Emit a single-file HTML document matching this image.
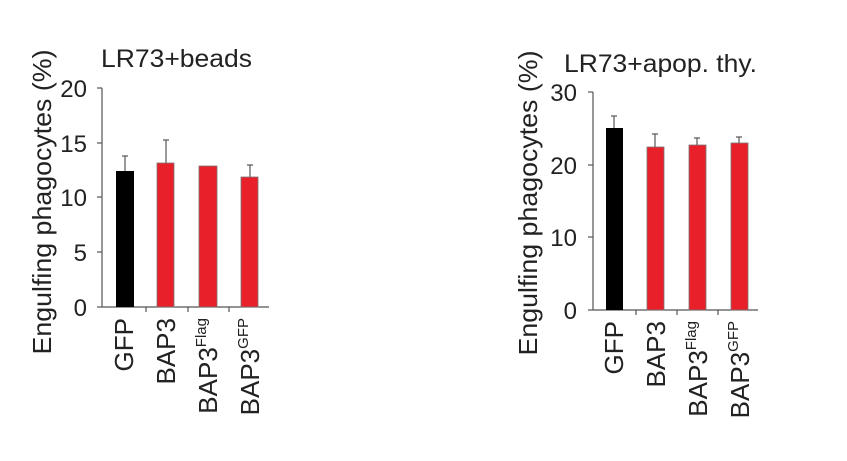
<!DOCTYPE html><html><head><style>body{margin:0;background:#fff}svg{font-family:"Liberation Sans",sans-serif}</style></head><body>
<svg width="847" height="456" viewBox="0 0 847 456" xmlns="http://www.w3.org/2000/svg">
<g fill="#222">
<!-- Left chart -->
<text x="101" y="67" font-size="25" textLength="151" lengthAdjust="spacingAndGlyphs">LR73+beads</text>
<text transform="translate(51,202) rotate(-90)" font-size="26" text-anchor="middle" textLength="305" lengthAdjust="spacingAndGlyphs">Engulfing phagocytes (%)</text>
<g stroke="#555" stroke-width="1.2" fill="none">
<line x1="102" y1="88" x2="102" y2="307"/><line x1="102" y1="307" x2="269" y2="307"/>
<line x1="97" y1="88" x2="102" y2="88"/><line x1="97" y1="143" x2="102" y2="143"/><line x1="97" y1="197" x2="102" y2="197"/><line x1="97" y1="252" x2="102" y2="252"/><line x1="97" y1="307" x2="102" y2="307"/>
<line x1="146" y1="307" x2="146" y2="312"/><line x1="188" y1="307" x2="188" y2="312"/><line x1="229" y1="307" x2="229" y2="312"/>
<line x1="125" y1="171" x2="125" y2="156"/><line x1="122" y1="156" x2="128" y2="156"/>
<line x1="166" y1="163" x2="166" y2="140"/><line x1="163" y1="140" x2="169" y2="140"/>
<line x1="250" y1="177" x2="250" y2="165"/><line x1="247" y1="165" x2="253" y2="165"/>
</g>
<g font-size="24" text-anchor="end"><text x="87" y="97">20</text><text x="87" y="152">15</text><text x="87" y="206">10</text><text x="87" y="261">5</text><text x="87" y="316">0</text></g>
<rect x="116" y="171" width="18" height="136" fill="#000"/>
<g fill="#e8202a" stroke="#777" stroke-width="0.8"><rect x="157" y="163" width="17" height="144"/><rect x="199" y="166" width="18" height="141"/><rect x="241" y="177" width="17" height="130"/></g>
<g font-size="26" text-anchor="end">
<text transform="translate(133,318) rotate(-90)">GFP</text>
<text transform="translate(175,318) rotate(-90)">BAP3</text>
<text transform="translate(217,318) rotate(-90)">BAP3<tspan font-size="15" dy="-11">Flag</tspan></text>
<text transform="translate(259,318) rotate(-90)">BAP3<tspan font-size="15" dy="-11">GFP</tspan></text>
</g>
<!-- Right chart -->
<text x="564" y="72" font-size="25" textLength="193" lengthAdjust="spacingAndGlyphs">LR73+apop. thy.</text>
<text transform="translate(537,203) rotate(-90)" font-size="26" text-anchor="middle" textLength="305" lengthAdjust="spacingAndGlyphs">Engulfing phagocytes (%)</text>
<g stroke="#555" stroke-width="1.2" fill="none">
<line x1="593" y1="92" x2="593" y2="310"/><line x1="593" y1="310" x2="758" y2="310"/>
<line x1="588" y1="92" x2="593" y2="92"/><line x1="588" y1="165" x2="593" y2="165"/><line x1="588" y1="237" x2="593" y2="237"/><line x1="588" y1="310" x2="593" y2="310"/>
<line x1="636" y1="310" x2="636" y2="315"/><line x1="677" y1="310" x2="677" y2="315"/><line x1="718" y1="310" x2="718" y2="315"/>
<line x1="614" y1="128" x2="614" y2="116"/><line x1="611" y1="116" x2="617" y2="116"/>
<line x1="655" y1="147" x2="655" y2="134"/><line x1="652" y1="134" x2="658" y2="134"/>
<line x1="697" y1="145" x2="697" y2="138"/><line x1="694" y1="138" x2="700" y2="138"/>
<line x1="739" y1="143" x2="739" y2="137"/><line x1="736" y1="137" x2="742" y2="137"/>
</g>
<g font-size="24" text-anchor="end"><text x="577" y="101">30</text><text x="577" y="174">20</text><text x="577" y="246">10</text><text x="577" y="319">0</text></g>
<rect x="606" y="128" width="17" height="182" fill="#000"/>
<g fill="#e8202a" stroke="#777" stroke-width="0.8"><rect x="647" y="147" width="17" height="163"/><rect x="689" y="145" width="17" height="165"/><rect x="731" y="143" width="17" height="167"/></g>
<g font-size="26" text-anchor="end">
<text transform="translate(623,321) rotate(-90)">GFP</text>
<text transform="translate(665,321) rotate(-90)">BAP3</text>
<text transform="translate(707,321) rotate(-90)">BAP3<tspan font-size="15" dy="-11">Flag</tspan></text>
<text transform="translate(749,321) rotate(-90)">BAP3<tspan font-size="15" dy="-11">GFP</tspan></text>
</g>
</g>
</svg></body></html>
